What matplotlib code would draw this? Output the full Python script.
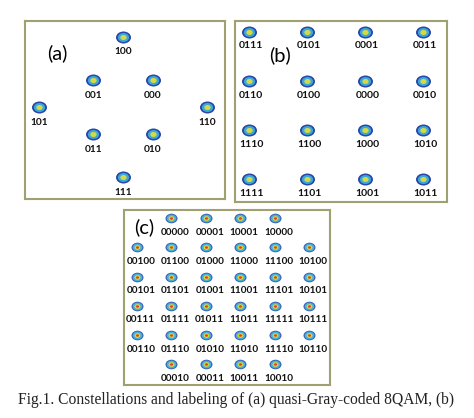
import numpy as np
import matplotlib.pyplot as plt
from matplotlib.path import Path
from matplotlib.transforms import Affine2D

# (a) quasi-Gray-coded 8QAM
a_i = [0, -1, 1, -2.8, 2.8, -1, 1, 0]
a_q = [2.6, 1, 1, 0, 0, -1, -1, -2.6]
a_lab = ['100', '001', '000', '101', '110', '011', '010', '111']

# (b) 16QAM, rows top to bottom
b_rows = [['0111', '0101', '0001', '0011'],
          ['0110', '0100', '0000', '0010'],
          ['1110', '1100', '1000', '1010'],
          ['1111', '1101', '1001', '1011']]

# (c) 32QAM cross, rows top to bottom (None = empty slot)
c_rows = [[None, '00000', '00001', '10001', '10000', None],
          ['00100', '01100', '01000', '11000', '11100', '10100'],
          ['00101', '01101', '01001', '11001', '11101', '10101'],
          ['00111', '01111', '01011', '11011', '11111', '10111'],
          ['00110', '01110', '01010', '11010', '11110', '10110'],
          [None, '00010', '00011', '10011', '10010', None]]

W, H = 474, 418
fig = plt.figure(figsize=(W / 100, H / 100), dpi=100)

def box(x0, y0, x1, y1):
    ax = fig.add_axes([x0 / W, 1 - y1 / H, (x1 - x0) / W, (y1 - y0) / H])
    ax.set_xticks([])
    ax.set_yticks([])
    for s in ax.spines.values():
        s.set_color('#a0a070')
        s.set_linewidth(1.5)
    return ax

ell = Affine2D().scale(1, 0.8).transform_path(Path.unit_circle())

def spots(ax, x, y, px, inner):
    # concentric elliptic blobs: px = outer width in pixels
    layers = [(1.0, '#2a46a8'), (0.75, '#3aa8d8'), (0.42, '#d8d840')]
    if inner:
        layers = [(1.0, '#3a60b8'), (0.8, '#40b4dc'), (0.5, '#d8d040'), (0.25, '#e04020')]
    for f, c in layers:
        s = (px * f * 0.72) ** 2
        ax.scatter(x, y, s=s, marker=ell, color=c, linewidths=0, zorder=3)

def labels(ax, x, y, txt, dy, fs, dx=0, weight='bold'):
    for xi, yi, t in zip(x, y, txt):
        ax.annotate(t, (xi, yi), xytext=(dx, -dy), textcoords='offset pixels',
                    ha='center', va='center', fontsize=fs, family='Lato',
                    fontweight=weight, color='#111111')

# panel (a)
ax = box(25, 21, 225, 199)
spots(ax, a_i, a_q, 15, False)
labels(ax, a_i, a_q, a_lab, 15, 7.3)
ax.set_xlim(-3.27, 3.4)
ax.set_ylim(-3.41, 3.19)
ax.text(0.16, 0.82, '(a)', transform=ax.transAxes, fontsize=14.5,
        family='Lato', ha='center', va='center')

# panel (b)
ax = box(235, 21, 447, 202)
bx, by, bl = [], [], []
for r, row in enumerate(b_rows):
    for c, t in enumerate(row):
        bx.append(c)
        by.append(3 - r)
        bl.append(t)
spots(ax, bx, by, 15, False)
labels(ax, bx, by, bl, 14, 7.5, dx=2)
ax.set_xlim(-0.247, 3.41)
ax.set_ylim(-0.46, 3.22)
ax.text(0.21, 0.81, '(b)', transform=ax.transAxes, fontsize=14.5,
        family='Lato', ha='center', va='center')

# panel (c)
ax = box(124, 210, 330, 385)
cx, cy, cl = [], [], []
for r, row in enumerate(c_rows):
    for c, t in enumerate(row):
        if t is None:
            continue
        cx.append(c)
        cy.append(5 - r)
        cl.append(t)
spots(ax, cx, cy, 12, True)
labels(ax, cx, cy, cl, 14, 7.2, dx=4)
ax.set_xlim(-0.37, 5.6)
ax.set_ylim(-0.71, 5.28)
ax.text(0.1, 0.9, '(c)', transform=ax.transAxes, fontsize=14.5,
        family='Lato', ha='center', va='center')

fig.text(235.5 / W, 1 - 400 / H,
         'Fig.1. Constellations and labeling of (a) quasi-Gray-coded 8QAM, (b)',
         ha='center', va='center', fontsize=11.2, family='Liberation Serif',
         color='#222222')

fig.savefig('out.png', dpi=100)
